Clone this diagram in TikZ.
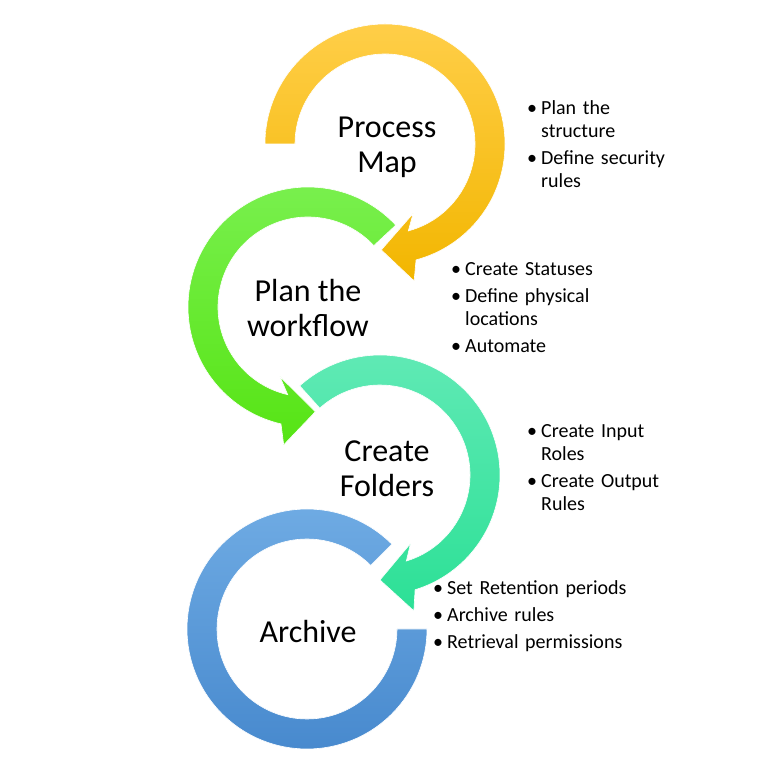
\documentclass[tikz,border=0pt]{standalone}
\usepackage{fontspec}
\setmainfont{Carlito}
\definecolor{mapyellow}{RGB}{255,206,72}
\definecolor{mapyellowdk}{RGB}{242,182,0}
\definecolor{plangreen}{RGB}{122,240,80}
\definecolor{plangreendk}{RGB}{86,228,20}
\definecolor{folderteal}{RGB}{98,234,182}
\definecolor{foldertealdk}{RGB}{44,224,150}
\definecolor{archiveblue}{RGB}{112,172,228}
\definecolor{archivebluedk}{RGB}{70,136,205}
\newcommand{\blt}[1]{\par\setlength{\parskip}{4pt}\lineskip=0pt\noindent
  \makebox[14pt][l]{\textbullet}\parbox[t]{200pt}{\raggedright\strut #1\strut}\par}
\begin{document}
\begin{tikzpicture}[x=1pt,y=1pt,
  ring/.style={draw=white, line width=0.6pt},
  steptext/.style={font=\fontsize{32}{35}\selectfont, align=center},
  bullets/.style={font=\fontsize{20}{23}\selectfont, text width=220pt,
    inner sep=0pt, anchor=base west}]
  \fill[white] (0,0) rectangle (768,768);
  \useasboundingbox (0,0) rectangle (768,768);
  % archive ring, no head
  \begin{scope}[shift={(307,139)}]
    \path[ring, top color=archiveblue, bottom color=archivebluedk]
      (45:120) arc[start angle=45, end angle=360, radius=120]
      -- (0:90) arc[start angle=360, end angle=45, radius=90] -- cycle;
  \end{scope}
  % create folders
  \begin{scope}[shift={(380,293)}]
    \path[ring, top color=folderteal, bottom color=foldertealdk]
      (132:120) arc[start angle=132, end angle=-73, radius=120]
      -- (-76:140) -- (-90:105) -- (-66:75) -- (-73:90)
      arc[start angle=-73, end angle=132, radius=90] -- cycle;
  \end{scope}
  % plan the workflow
  \begin{scope}[shift={(308,461)}]
    \path[ring, top color=plangreen, bottom color=plangreendk]
      (43:120) arc[start angle=43, end angle=257, radius=120]
      -- (260:140) -- (274:105) -- (248:75) -- (257:90)
      arc[start angle=257, end angle=43, radius=90] -- cycle;
  \end{scope}
  % process map
  \begin{scope}[shift={(385,624)}]
    \path[ring, top color=mapyellow, bottom color=mapyellowdk]
      (180:120) arc[start angle=180, end angle=-75, radius=120]
      -- (-78:140) -- (-92:106) -- (-68:75) -- (-75:90)
      arc[start angle=-75, end angle=180, radius=90] -- cycle;
  \end{scope}

  \node[steptext] (map) at (387,621) {Process\\Map};
  \node[steptext] (plan) at (308,460) {Plan the\\workflow};
  \node[steptext] (folders) at (387,299) {Create\\Folders};
  \node[steptext] (archive) at (308,136) {Archive};

  \node[bullets] (mapnotes) at (527,680)
    {\blt{Plan the\\structure}\blt{Define security\\rules}};
  \node[bullets] (plannotes) at (451,519)
    {\blt{Create Statuses}\blt{Define physical\\locations}\blt{Automate}};
  \node[bullets] (foldernotes) at (527,357)
    {\blt{Create Input\\Roles}\blt{Create Output\\Rules}};
  \node[bullets] (archivenotes) at (433,200)
    {\blt{Set Retention periods}\blt{Archive rules}\blt{Retrieval permissions}};
\end{tikzpicture}
\end{document}
